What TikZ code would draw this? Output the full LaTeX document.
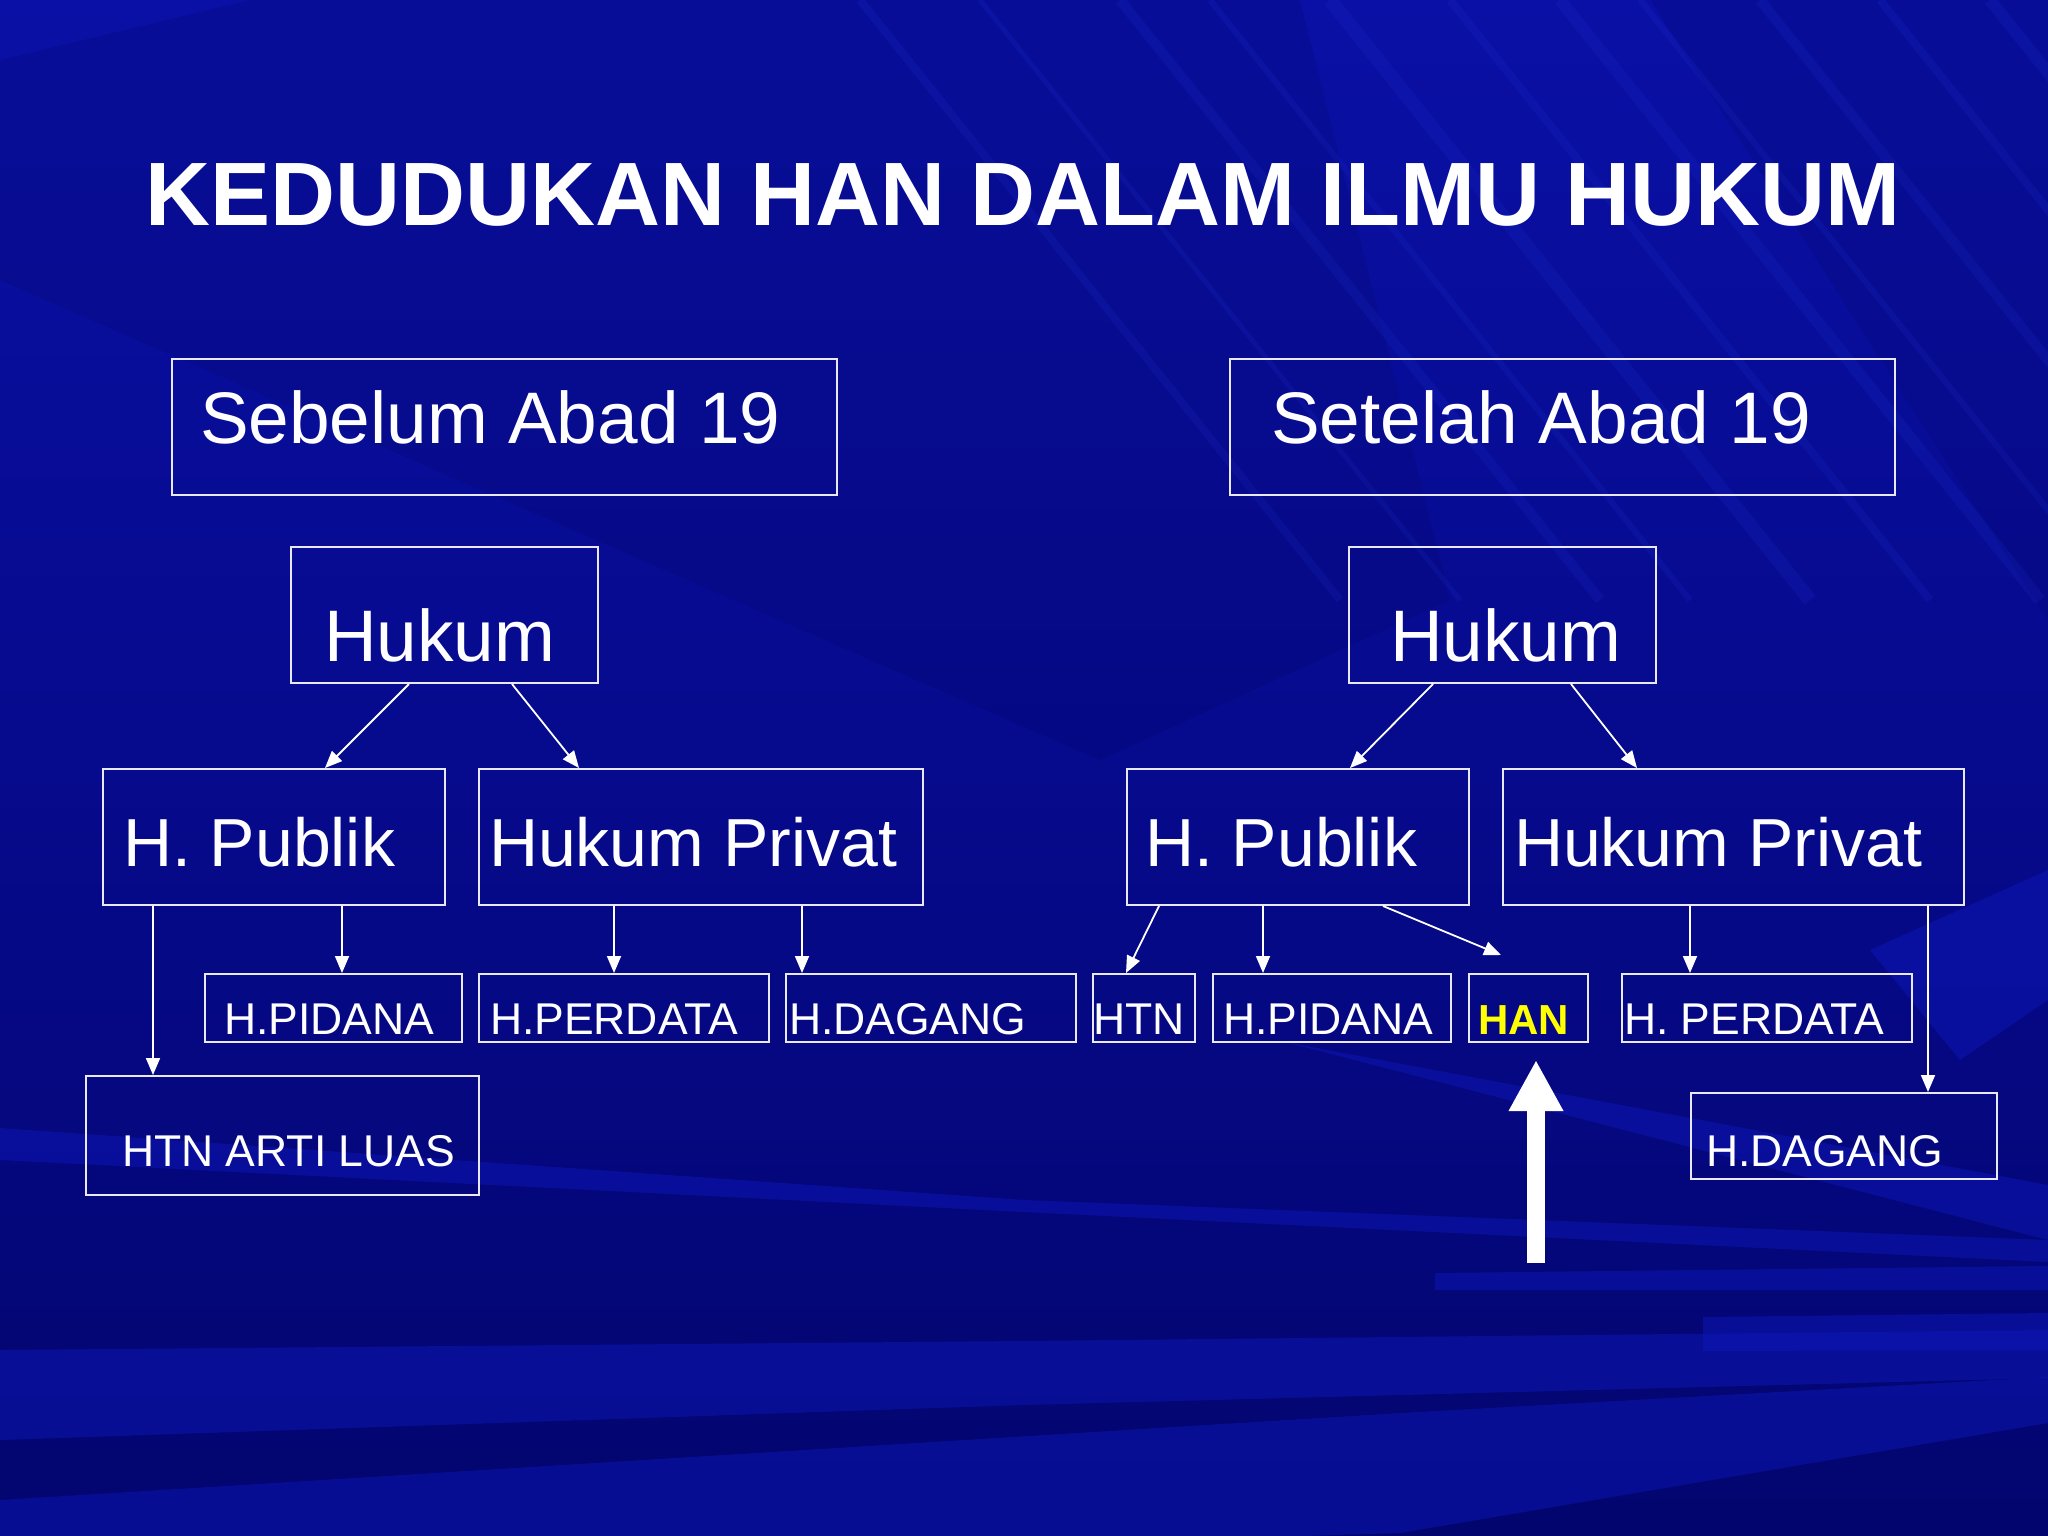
\documentclass[tikz,border=0pt]{standalone}
\usepackage{fontspec}
\setmainfont{Liberation Sans}
\usetikzlibrary{arrows.meta,calc}
\definecolor{bgtop}{RGB}{10,16,165}
\definecolor{bgmid}{RGB}{6,10,140}
\definecolor{bgbot}{RGB}{3,5,110}
\definecolor{bgdark}{RGB}{2,3,90}
\definecolor{bglight}{RGB}{14,24,190}
\definecolor{streak}{RGB}{40,64,235}
\definecolor{boxline}{RGB}{232,232,248}
\definecolor{hanyellow}{RGB}{255,255,0}
\newcommand\bxt[3]{\makebox[#1][l]{\hspace*{#2}#3}}
\newcommand\ftitle{\fontsize{90}{100}\selectfont\bfseries}
\newcommand\fbig{\fontsize{73}{80}\selectfont}
\newcommand\fmid{\fontsize{68}{75}\selectfont}
\newcommand\fsmall{\fontsize{44.5}{50}\selectfont}
\newcommand\fhan{\fontsize{42}{48}\selectfont\bfseries}
\begin{document}
\begin{tikzpicture}[x=1pt,y=-1pt,
  box/.style={draw=boxline, line width=2pt, inner sep=0pt, text depth=0pt, anchor=north west, text=white},
  conn/.style={draw=white, line width=1.8pt, -{Triangle[width=14pt,length=17pt]}},
  bigarrow/.style={draw=white, line width=18pt, -{Triangle[width=51pt,length=51pt]}},
  streakline/.style={draw=streak, opacity=0.12, line cap=butt},
  lightband/.style={fill=bglight, opacity=0.45},
  darkband/.style={fill=bgdark, opacity=0.16},
]
\useasboundingbox (0,0) rectangle (2048,1536);
% ---------- background ----------
\shade[top color=bgtop, bottom color=bgbot, middle color=bgmid] (0,0) rectangle (2048,1536);
\fill[darkband] (0,60) -- (250,0) -- (1300,0) -- (1450,600) -- (1100,760) -- (0,280) -- cycle;
\fill[darkband] (1650,0) -- (2048,0) -- (2048,620) -- cycle;
\foreach \sx/\w in {860/8, 980/5, 1120/10, 1210/6, 1330/14, 1450/8, 1560/12, 1640/6, 1760/10, 1880/8, 1990/12}
  \draw[streakline, line width=\w pt] (\sx,0) -- ++(480,600);
\fill[lightband] (0,1128) -- (1024,1200) -- (2048,1240) -- (2048,1262) -- (1024,1212) -- (0,1160) -- cycle;
\fill[lightband] (1285,1042) -- (2048,1185) -- (2048,1240) -- cycle;
\fill[lightband] (1870,950) -- (2048,870) -- (2048,1000) -- (1960,1060) -- cycle;
\fill[lightband] (1435,1273) -- (2048,1266) -- (2048,1290) -- (1435,1290) -- cycle;
\fill[lightband] (1703,1317) -- (2048,1313) -- (2048,1350) -- (1703,1351) -- cycle;
\fill[lightband] (0,1350) -- (1024,1341) -- (2048,1330) -- (2048,1378) -- (1024,1405) -- (0,1440) -- cycle;
\fill[lightband] (0,1500) -- (1400,1413) -- (2048,1377) -- (2048,1423) -- (1400,1533) -- (1300,1536) -- (0,1536) -- cycle;
% ---------- title ----------
\node[anchor=base, text=white, inner sep=0pt] (title) at (1023,225) {\ftitle KEDUDUKAN HAN DALAM ILMU HUKUM};
% ---------- boxes ----------
\node[box, minimum width=665pt, minimum height=136pt, text height=32pt] (sebelum) at (171,358) {\fbig\bxt{665pt}{28pt}{Sebelum Abad 19}};
\node[box, minimum width=665pt, minimum height=136pt, text height=32pt] (setelah) at (1229,358) {\fbig\bxt{665pt}{41pt}{Setelah Abad 19}};
\node[box, minimum width=307pt, minimum height=136pt, text height=92pt] (hukumL) at (290,546) {\fbig\bxt{307pt}{33pt}{Hukum}};
\node[box, minimum width=307pt, minimum height=136pt, text height=92pt] (hukumR) at (1348,546) {\fbig\bxt{307pt}{41pt}{Hukum}};
\node[box, minimum width=342pt, minimum height=136pt, text height=58pt] (hpubL) at (102,768) {\fmid\bxt{342pt}{20pt}{H. Publik}};
\node[box, minimum width=444pt, minimum height=136pt, text height=58pt] (hprivL) at (478,768) {\fmid\bxt{444pt}{10pt}{Hukum Privat}};
\node[box, minimum width=342pt, minimum height=136pt, text height=58pt] (hpubR) at (1126,768) {\fmid\bxt{342pt}{18pt}{H. Publik}};
\node[box, minimum width=461pt, minimum height=136pt, text height=58pt] (hprivR) at (1502,768) {\fmid\bxt{461pt}{11pt}{Hukum Privat}};
\node[box, minimum width=257pt, minimum height=68pt, text height=52pt] (hpidL) at (204,973) {\fsmall\bxt{257pt}{19pt}{H.PIDANA}};
\node[box, minimum width=290pt, minimum height=68pt, text height=52pt] (hperdL) at (478,973) {\fsmall\bxt{290pt}{11pt}{H.PERDATA}};
\node[box, minimum width=290pt, minimum height=68pt, text height=52pt] (hdagL) at (785,973) {\fsmall\bxt{290pt}{3pt}{H.DAGANG}};
\node[box, minimum width=393pt, minimum height=119pt, text height=61pt] (htnLuas) at (85,1075) {\fsmall\bxt{393pt}{36pt}{HTN ARTI LUAS}};
\node[box, minimum width=102pt, minimum height=68pt, text height=52pt] (htn) at (1092,973) {\fsmall\bxt{102pt}{0pt}{HTN}};
\node[box, minimum width=238pt, minimum height=68pt, text height=52pt] (hpidR) at (1212,973) {\fsmall\bxt{238pt}{10pt}{H.PIDANA}};
\node[box, minimum width=119pt, minimum height=68pt, text height=52pt, text=hanyellow] (han) at (1468,973) {\fhan\bxt{119pt}{9pt}{HAN}};
\node[box, minimum width=290pt, minimum height=68pt, text height=52pt] (hperdR) at (1621,973) {\fsmall\bxt{290pt}{2pt}{H. PERDATA}};
\node[box, minimum width=306pt, minimum height=86pt, text height=60pt] (hdagR) at (1690,1092) {\fsmall\bxt{306pt}{15pt}{H.DAGANG}};
% ---------- connectors (left tree) ----------
\draw[conn] ($(hukumL.south west)+(119,0)$) -- ($(hpubL.north west)+(223,0)$);
\draw[conn] ($(hukumL.south west)+(222,0)$) -- ($(hprivL.north west)+(101,0)$);
\draw[conn] ($(hpubL.south west)+(51,0)$) -- ($(htnLuas.north west)+(68,0)$);
\draw[conn] ($(hpubL.south west)+(240,0)$) -- ($(hpidL.north west)+(138,0)$);
\draw[conn] ($(hprivL.south west)+(136,0)$) -- ($(hperdL.north west)+(136,0)$);
\draw[conn] ($(hprivL.south west)+(324,0)$) -- ($(hdagL.north west)+(17,0)$);
% ---------- connectors (right tree) ----------
\draw[conn] ($(hukumR.south west)+(85,0)$) -- ($(hpubR.north west)+(224,0)$);
\draw[conn] ($(hukumR.south west)+(223,0)$) -- ($(hprivR.north west)+(135,0)$);
\draw[conn] ($(hpubR.south west)+(33,0)$) -- ($(htn.north west)+(34,0)$);
\draw[conn] ($(hpubR.south west)+(137,0)$) -- ($(hpidR.north west)+(51,0)$);
\draw[conn] ($(hpubR.south west)+(257,0)$) -- ($(han.north west)+(33,-18)$);
\draw[conn] ($(hprivR.south west)+(188,0)$) -- ($(hperdR.north west)+(69,0)$);
\draw[conn] ($(hprivR.south west)+(426,0)$) -- ($(hdagR.north west)+(238,0)$);
% ---------- big arrow pointing at HAN ----------
\coordinate (bigtail) at (1536,1263);
\draw[bigarrow] (bigtail) -- ($(han.south west)+(68,17)$);
\end{tikzpicture}
\end{document}
